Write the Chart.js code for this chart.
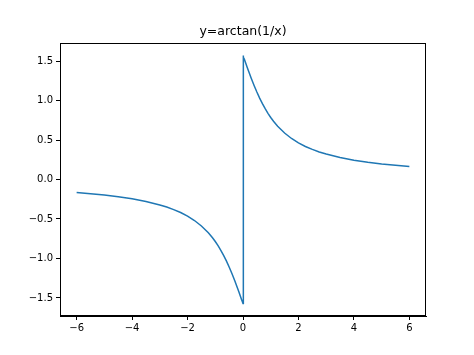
<!DOCTYPE html>
<html>
<head>
<meta charset="utf-8">
<script src="https://cdn.jsdelivr.net/npm/chart.js@4"></script>
<style>
  html, body { margin: 0; padding: 0; background: #fff; }
  #wrap { width: 474px; height: 355px; }
</style>
</head>
<body>
<div id="wrap"><canvas id="chart"></canvas></div>
<script>
// values, left branch then right branch
var x_left = [-6, -5.5, -5, -4.5, -4, -3.5, -3, -2.75, -2.5, -2.25, -2, -1.75, -1.5, -1.25, -1.1, -1, -0.9, -0.8, -0.7, -0.6, -0.5, -0.45, -0.4, -0.35, -0.3, -0.25, -0.2, -0.15, -0.1, -0.05, -0.025, 0];
var y_left = [-0.165, -0.180, -0.197, -0.219, -0.245, -0.278, -0.322, -0.349, -0.381, -0.418, -0.464, -0.519, -0.588, -0.675, -0.738, -0.785, -0.838, -0.896, -0.960, -1.030, -1.107, -1.148, -1.190, -1.234, -1.279, -1.326, -1.373, -1.422, -1.471, -1.521, -1.546, -1.571];
var x_right = [0, 0.025, 0.05, 0.1, 0.15, 0.2, 0.25, 0.3, 0.35, 0.4, 0.45, 0.5, 0.6, 0.7, 0.8, 0.9, 1, 1.1, 1.25, 1.5, 1.75, 2, 2.25, 2.5, 2.75, 3, 3.5, 4, 4.5, 5, 5.5, 6];
var y_right = [1.571, 1.546, 1.521, 1.471, 1.422, 1.373, 1.326, 1.279, 1.234, 1.190, 1.148, 1.107, 1.030, 0.960, 0.896, 0.838, 0.785, 0.738, 0.675, 0.588, 0.519, 0.464, 0.418, 0.381, 0.349, 0.322, 0.278, 0.245, 0.219, 0.197, 0.180, 0.165];
var x_ticks = [-6, -4, -2, 0, 2, 4, 6];
var y_ticks = [-1.5, -1.0, -0.5, 0.0, 0.5, 1.0, 1.5];

var points = [];
x_left.forEach(function(x, i) { points.push({x: x, y: y_left[i]}); });
x_right.forEach(function(x, i) { points.push({x: x, y: y_right[i]}); });

function minus(s) { return String(s).replace('-', '\u2212'); }

var boxPlugin = {
    id: 'box',
    afterDraw: function(chart) {
        var a = chart.chartArea;
        var ctx = chart.ctx;
        ctx.save();
        ctx.strokeStyle = '#000';
        ctx.lineWidth = 1;
        ctx.strokeRect(a.left + 0.5, a.top + 0.5, a.right - a.left - 1, a.bottom - a.top - 1);
        ctx.restore();
    }
};

var font = { family: 'DejaVu Sans', size: 10 };

new Chart(document.getElementById('chart'), {
    type: 'line',
    data: {
        datasets: [{
            data: points,
            borderColor: '#1f77b4',
            borderWidth: 1.5,
            pointRadius: 0,
            tension: 0,
            fill: false
        }]
    },
    options: {
        responsive: true,
        maintainAspectRatio: false,
        animation: false,
        layout: { padding: { left: 12, right: 0, top: 0, bottom: 0 } },
        plugins: {
            legend: { display: false },
            tooltip: { enabled: false },
            title: {
                display: true,
                text: 'y=arctan(1/x)',
                color: '#000',
                font: { family: 'DejaVu Sans', size: 12.5, weight: 'normal' },
                padding: { top: 24, bottom: 4 }
            }
        },
        scales: {
            x: {
                type: 'linear',
                min: -6.6,
                max: 6.6,
                afterBuildTicks: function(s) {
                    s.ticks = x_ticks.map(function(v) { return { value: v }; });
                },
                afterFit: function(s) { s.height = 39; },
                grid: { drawOnChartArea: false, tickLength: 4, tickColor: '#000' },
                border: { color: '#000' },
                ticks: {
                    color: '#000',
                    font: font,
                    padding: 2,
                    maxRotation: 0,
                    callback: function(v) { return minus(v); }
                }
            },
            y: {
                type: 'linear',
                min: -1.728,
                max: 1.728,
                afterBuildTicks: function(s) {
                    s.ticks = y_ticks.map(function(v) { return { value: v }; });
                },
                afterFit: function(s) { s.width = 48; },
                grid: { drawOnChartArea: false, tickLength: 4, tickColor: '#000' },
                border: { color: '#000' },
                ticks: {
                    color: '#000',
                    font: font,
                    padding: 3,
                    callback: function(v) { return minus(v.toFixed(1)); }
                }
            },
            // empty axis on the right, only to hold the margin
            yRight: {
                type: 'linear',
                position: 'right',
                display: true,
                afterFit: function(s) { s.width = 48; },
                grid: { display: false },
                border: { display: false },
                ticks: { display: false }
            }
        }
    },
    plugins: [boxPlugin]
});
</script>
</body>
</html>
